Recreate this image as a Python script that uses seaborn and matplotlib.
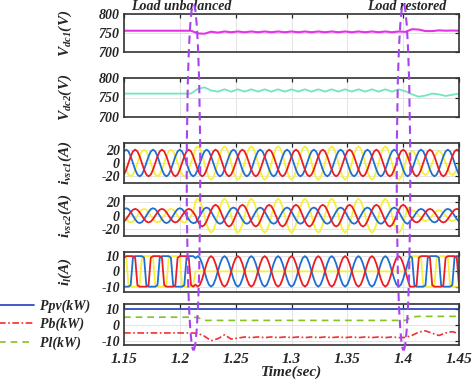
import numpy as np
import pandas as pd
import seaborn as sns
import matplotlib
matplotlib.use('Agg')
import matplotlib.pyplot as plt
from matplotlib.patches import Ellipse

# ---- slow signals, read every 6 ms from 1.15 s to 1.45 s ----
t_slow = np.round(np.linspace(1.15, 1.45, 51), 3)

vdc1 = [756.0] * 11 + [749, 748, 753.5, 751] + [754, 752] * 13 + [754] + \
       [753, 760, 759, 755, 755, 757, 756, 756.5, 756]
vdc2 = [760.0] * 11 + [772, 776, 768, 765] + [771, 765] * 13 + [771] + \
       [766, 758, 752, 755, 760, 758, 754, 757, 760]

ppv = [10.2] * 51
pb = [-5.0] * 11 + [-5.2, -7.0, -9.8, -8.6, -6.2, -8.8, -8.2] + [-7.5, -7.9] * 12 + \
     [-7.8, -6.5, -4.5, -3.7, -5.2, -6.6, -5.0, -4.2, -5.4]
pl = [4.8] * 11 + [4.6] + [2.8] * 31 + [5.0] + [5.3] * 7
power_names = ['Ppv(kW)', 'Pb(kW)', 'Pl(kW)']

# ---- three phase currents: one cycle = 12 samples ----
period = 0.024
t_fast = np.round(1.15 + np.arange(151) * period / 12, 4)
seg_edges = [1.150, 1.213, 1.405]          # start, load unbalanced, load restored
sine_cycle = [0.0, 0.5, 0.87, 1.0, 0.87, 0.5, 0.0, -0.5, -0.87, -1.0, -0.87, -0.5]
square_cycle = [0.9, 1.0, 1.0, 1.0, 1.0, 0.9, -0.9, -1.0, -1.0, -1.0, -1.0, -0.9]

# peak per segment (before, unbalanced, restored); phase in twelfths of a cycle
ivsc1_peak = {'a': [20, 20, 20], 'b': [20, 20, 20], 'c': [20, 25, 18]}
ivsc2_peak = {'a': [10, 16, 10], 'b': [11, 12, 10], 'c': [10, 25, 8]}
il_peak = {'a': [10, 10, 10], 'b': [10, 10, 10], 'c': [10, 0, 10]}
vsc_phase = {'a': [10, 10, 10], 'b': [2, 2, 2], 'c': [6, 6, 6]}
il_phase = {'a': [0, 0, 0], 'b': [8, 6, 8], 'c': [4, 4, 4]}

phase_colors = {'a': '#ec1c24', 'b': '#1f6fd0', 'c': '#f6f03c'}


def build(peaks, phases, shapes):
    seg = np.searchsorted(seg_edges, t_fast, side='right') - 1
    k = np.arange(len(t_fast))
    y = np.zeros(len(t_fast))
    for s in range(3):
        m = seg == s
        cyc = np.asarray(shapes[s])
        y[m] = peaks[s] * cyc[(k[m] + phases[s]) % 12]
    return y


def draw_3ph(ax, peaks, phases, shapes):
    order = ['c', 'b', 'a']
    df = pd.DataFrame({
        't': np.tile(t_fast, 3),
        'i': np.concatenate([build(peaks[p], phases[p], shapes) for p in order]),
        'phase': np.repeat(order, len(t_fast)),
    })
    sns.lineplot(data=df, x='t', y='i', hue='phase', hue_order=order,
                 palette=phase_colors, lw=1.3, legend=False, ax=ax,
                 estimator=None, sort=False)


sns.set_theme(style='white')
plt.rcParams['font.family'] = ['Liberation Serif', 'DejaVu Serif']
plt.rcParams['font.weight'] = 'bold'
plt.rcParams['font.style'] = 'italic'
plt.rcParams['mathtext.fontset'] = 'custom'
plt.rcParams['mathtext.rm'] = 'Liberation Serif:bold:italic'
plt.rcParams['mathtext.it'] = 'Liberation Serif:bold:italic'
plt.rcParams['mathtext.bf'] = 'Liberation Serif:bold:italic'
plt.rcParams['axes.unicode_minus'] = False

fig = plt.figure(figsize=(4.74, 3.81), dpi=100)
L, W = 124 / 474, 335 / 474
boxes = [(14, 52), (78, 117), (143, 183), (196, 236), (252, 292), (304, 345)]
axes = [fig.add_axes([L, 1 - b / 381, W, (b - t) / 381]) for t, b in boxes]
ax1, ax2, ax3, ax4, ax5, ax6 = axes

sns.lineplot(x=t_slow, y=vdc1, color='#e632e6', lw=1.5, ax=ax1)
sns.lineplot(x=t_slow, y=vdc2, color='#72e6bc', lw=1.3, ax=ax2)
draw_3ph(ax3, ivsc1_peak, vsc_phase, [sine_cycle] * 3)
draw_3ph(ax4, ivsc2_peak, vsc_phase, [sine_cycle] * 3)
draw_3ph(ax5, il_peak, il_phase, [square_cycle, sine_cycle, square_cycle])

pw = pd.DataFrame({'t': np.tile(t_slow, 3), 'P': ppv + pb + pl,
                   'name': np.repeat(power_names, len(t_slow))})
sns.lineplot(data=pw, x='t', y='P', hue='name', style='name', ax=ax6, lw=1.2,
             palette={'Ppv(kW)': '#1f3fc0', 'Pb(kW)': '#f03030', 'Pl(kW)': '#88c21e'},
             dashes={'Ppv(kW)': '', 'Pb(kW)': (4, 1.5, 1, 1.5), 'Pl(kW)': (4, 3)})
sns.move_legend(ax6, 'center right', bbox_to_anchor=(-0.084, 0.5), frameon=False,
                title=None, fontsize=10, handlelength=2.8, labelspacing=0.35,
                handletextpad=0.4, borderaxespad=0)

ylims = [(700, 800), (700, 800), (-30, 30), (-30, 29), (-13.5, 12.7), (-12.5, 13)]
yticks = [[700, 750, 800], [700, 750, 800], [-20, 0, 20], [-20, 0, 20],
          [-10, 0, 10], [-10, 0, 10]]
ylabels = ['$V_{dc1}(V)$', '$V_{dc2}(V)$', '$i_{vsc1}(A)$', '$i_{vsc2}(A)$', '$i_l(A)$', '']
xticks = [1.15, 1.2, 1.25, 1.3, 1.35, 1.4, 1.45]

for ax, yl, yt, lab in zip(axes, ylims, yticks, ylabels):
    ax.set_xlim(1.15, 1.45)
    ax.set_ylim(*yl)
    ax.set_xticks(xticks)
    ax.set_yticks(yt)
    ax.set_axisbelow(True)
    ax.grid(True, color='#e4e4e4', lw=0.7)
    ax.tick_params(direction='in', top=True, right=True, length=3, width=0.9,
                   color='#222222', labelsize=10, pad=3, labelbottom=False)
    for sp in ax.spines.values():
        sp.set_color('#333333')
        sp.set_linewidth(1.2)
    ax.set_xlabel('')
    ax.set_ylabel(lab, fontsize=11)
    ax.yaxis.set_label_coords(-0.15, 0.5)

ax6.tick_params(axis='x', labelbottom=True, labelsize=11, pad=6)
ax6.set_xticklabels(['1.15', '1.2', '1.25', '1.3', '1.35', '1.4', '1.45'])
fig.text(291.5 / 474, 1 - 372 / 381, 'Time(sec)', ha='center', va='center', fontsize=11)

fig.text(181 / 474, 1 - 7 / 381, 'Load unbalanced', ha='center', va='center', fontsize=10)
fig.text(407 / 474, 1 - 7 / 381, 'Load restored', ha='center', va='center', fontsize=10)

for cx in (193.5, 403.5):
    fig.add_artist(Ellipse((cx / 474, 1 - 177 / 381), 13.5 / 474, 346 / 381,
                           fill=False, ec='#a744f0', lw=1.5, ls=(0, (4, 2.5)),
                           transform=fig.transFigure, zorder=5))

fig.savefig('out.png', dpi=100)
